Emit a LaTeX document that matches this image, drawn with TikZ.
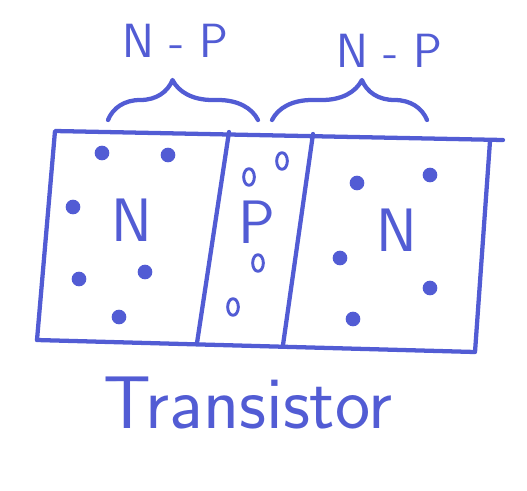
\documentclass[tikz,border=0pt]{standalone}
\usepackage{fontspec}
\usetikzlibrary{decorations.pathreplacing,shapes.geometric}
\definecolor{ink}{RGB}{82,92,212}

\begin{document}
\begin{tikzpicture}[x=0.75pt,y=-0.75pt,line width=3.2pt,line cap=round,line join=round,
    electron/.style={circle,fill=ink,inner sep=0pt,minimum size=11pt},
    hole/.style={ellipse,draw=ink,line width=2.2pt,inner sep=0pt,minimum width=8pt,minimum height=12.5pt},
    letter/.style={text=ink,font=\sffamily\fontsize{46}{50}\selectfont},
    label/.style={text=ink,font=\sffamily\fontsize{36}{40}\selectfont},
    brace/.style={draw=ink,decorate,decoration={brace,amplitude=30pt,aspect=#1}}]

    \useasboundingbox (0,0) rectangle (527,490);

    % crystal outline
    \coordinate (tl) at (55,131);
    \coordinate (tr) at (503,140);
    \coordinate (rt) at (490,141);
    \coordinate (br) at (475,352);
    \coordinate (bl) at (37,340);
    \coordinate (d1t) at (229,132);
    \coordinate (d1b) at (197,343);
    \coordinate (d2t) at (313,134);
    \coordinate (d2b) at (283,345);

    \draw[ink] (bl) -- (tl) -- (tr);
    \draw[ink] (rt) -- (br) -- (bl);
    \draw[ink] (d1t) -- (d1b);
    \draw[ink] (d2t) -- (d2b);

    % emitter
    \node[letter] (nleft) at (132,220) {N};
    \node[electron] (e1) at (102,153) {};
    \node[electron] (e2) at (168,155) {};
    \node[electron] (e3) at (73,207) {};
    \node[electron] (e4) at (79,279) {};
    \node[electron] (e5) at (145,272) {};
    \node[electron] (e6) at (119,317) {};

    % base
    \node[letter] (pmid) at (257,222) {P};
    \node[hole] (h1) at (249,177) {};
    \node[hole] (h2) at (282,161) {};
    \node[hole] (h3) at (258,263) {};
    \node[hole] (h4) at (233,307) {};

    % collector
    \node[letter] (nright) at (397,230) {N};
    \node[electron] (e7) at (357,183) {};
    \node[electron] (e8) at (430,175) {};
    \node[electron] (e9) at (340,258) {};
    \node[electron] (e10) at (430,288) {};
    \node[electron] (e11) at (353,319) {};

    % junctions
    \coordinate (b1l) at (108,120);
    \coordinate (b1r) at (258,120);
    \coordinate (b2l) at (272,120);
    \coordinate (b2r) at (427,120);
    \draw[brace=0.43] (b1l) -- (b1r);
    \draw[brace=0.58] (b2l) -- (b2r);
    \node[label] (np1) at (175,41) {N - P};
    \node[label] (np2) at (389,51) {N - P};

    \node[text=ink,font=\sffamily\fontsize{56}{60}\selectfont] (title) at (248,403) {Transistor};
\end{tikzpicture}
\end{document}
